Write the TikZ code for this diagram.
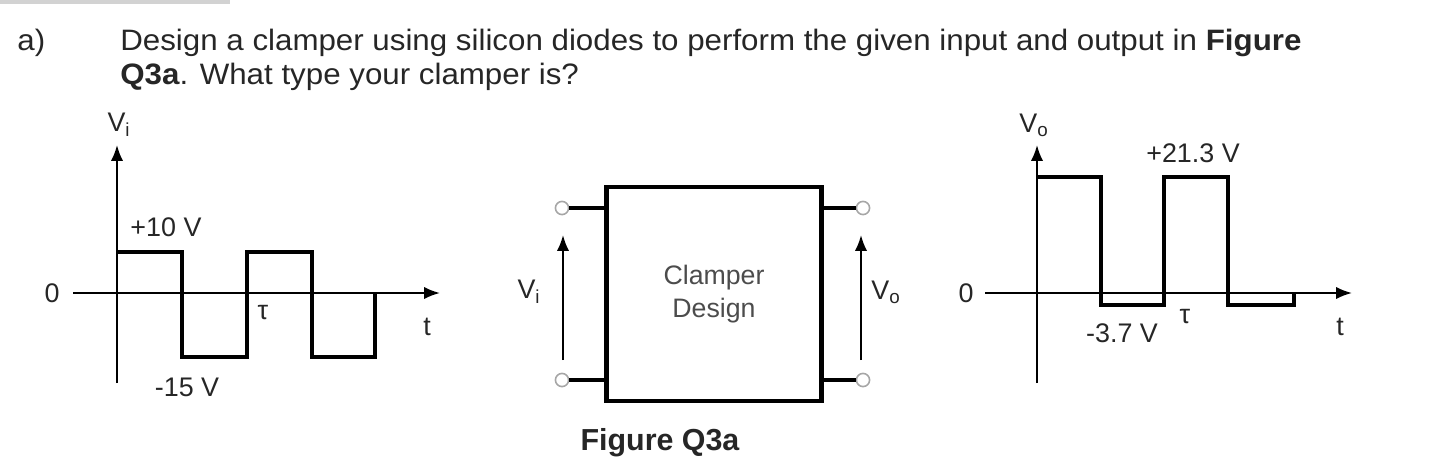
\documentclass[tikz,border=0pt]{standalone}
\usepackage{fontspec}
\setmainfont{Liberation Sans}
\newfontfamily\titlefont[FakeStretch = 1.06]{Liberation Sans}
\usetikzlibrary{arrows.meta}

\tikzset{
	axis/.style = {line width = 1.2pt, -{Latex[length = 9pt, width = 7pt]}},
	wave/.style = {line width = 2.6pt, line join = miter},
	lead/.style = {line width = 1.8pt},
	lbl/.style = {font = \fontsize{15.3}{18}\selectfont, text = black!85, inner sep = 0pt},
	title/.style = {font = \titlefont\fontsize{16.8}{20}\selectfont, text = black!85, inner sep = 0pt},
	terminal/.style = {circle, draw = gray!70, line width = 0.9pt, fill = white, minimum size = 7.5pt, inner sep = 0pt},
	blockbox/.style = {draw, line width = 2.3pt, minimum width = 43mm, minimum height = 42.8mm, align = center,
		font = \fontsize{15.2}{18.8}\selectfont, text = black!70}
}

\begin{document}
\begin{tikzpicture}[x = 0.2mm, y = -0.2mm]
	\useasboundingbox (0, 0) rectangle (1440, 468);
	
	% question text
	\draw[gray!35, line width = 2pt] (0, 2) -- (230, 2);
	\node[title, anchor = west] (part) at (17, 43) {a)};
	\node[title, anchor = west] (line1) at (120, 43) {Design a clamper using silicon diodes to perform the given input and output in \textbf{Figure}};
	\node[title, anchor = west] (line2) at (120, 77) {\textbf{Q3a}. What type your clamper is?};
	
	% input waveform
	\draw[axis] (117, 383) -- (117, 145);
	\draw[axis] (73, 293) -- (440, 293);
	\draw[wave] (117, 252) -- (182, 252) -- (182, 357) -- (247, 357) -- (247, 252) -- (312, 252) -- (312, 357) -- (375, 357) -- (375, 293);
	\node[lbl] (viaxis) at (119, 125) {V\textsubscript{i}};
	\node[lbl] (zeroin) at (52, 293) {0};
	\node[lbl] (vhigh) at (166, 227) {+10 V};
	\node[lbl] (vlow) at (187, 387) {-15 V};
	\node[lbl] (tauin) at (263, 313) {τ};
	\node[lbl] (tin) at (427, 327) {t};
	
	% clamper block
	\node[blockbox] (clamper) at (714, 294) {Clamper\\Design};
	\node[terminal] (intop) at (562, 208) {};
	\node[terminal] (inbot) at (562, 380) {};
	\node[terminal] (outtop) at (863, 208) {};
	\node[terminal] (outbot) at (863, 380) {};
	\draw[lead] (intop.east) -- (intop -| clamper.west);
	\draw[lead] (inbot.east) -- (inbot -| clamper.west);
	\draw[lead] (outtop.west) -- (outtop -| clamper.east);
	\draw[lead] (outbot.west) -- (outbot -| clamper.east);
	\coordinate (vitail) at (563, 360);
	\coordinate (vihead) at (563, 235);
	\coordinate (votail) at (861, 360);
	\coordinate (vohead) at (861, 235);
	\draw[axis] (vitail) -- (vihead);
	\draw[axis] (votail) -- (vohead);
	\node[lbl] (viblock) at (529, 292) {V\textsubscript{i}};
	\node[lbl] (voblock) at (886, 292) {V\textsubscript{o}};
	\node[font = \fontsize{17.3}{20}\selectfont\bfseries, text = black!85] (caption) at (660, 443) {Figure Q3a};
	
	% output waveform
	\draw[axis] (1037, 383) -- (1037, 145);
	\draw[axis] (985, 293) -- (1352, 293);
	\draw[wave] (1037, 177) -- (1101, 177) -- (1101, 305) -- (1164, 305) -- (1164, 177) -- (1228, 177) -- (1228, 305) -- (1294, 305) -- (1294, 293);
	\node[lbl] (voaxis) at (1034, 125) {V\textsubscript{o}};
	\node[lbl] (zeroout) at (966, 293) {0};
	\node[lbl] (ohigh) at (1193, 153) {+21.3 V};
	\node[lbl] (olow) at (1122, 333) {-3.7 V};
	\node[lbl] (tauout) at (1185, 317) {τ};
	\node[lbl] (tout) at (1340, 327) {t};
\end{tikzpicture}
\end{document}
